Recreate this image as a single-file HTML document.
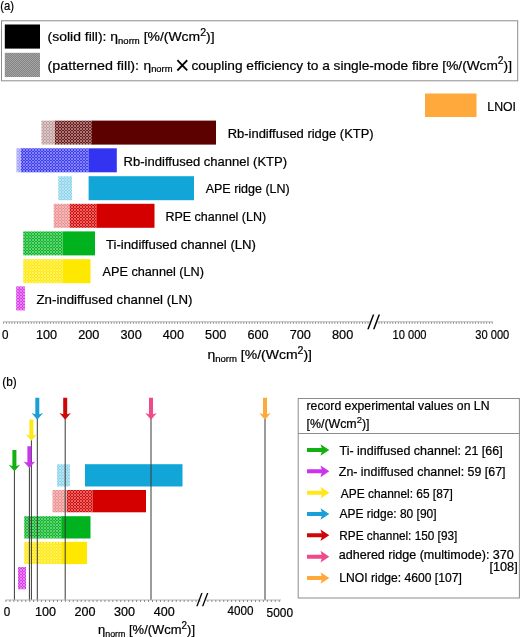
<!DOCTYPE html>
<html><head><meta charset="utf-8"><title>figure</title>
<style>
html,body{margin:0;padding:0;background:#fff;}
svg{display:block;font-family:"Liberation Sans", sans-serif;}
text{stroke:#000;stroke-width:0.22px;}
</style></head><body>
<svg width="520" height="637" viewBox="0 0 520 637">
<rect width="520" height="637" fill="#fff"/>
<defs>
<pattern id="m_rb" width="3" height="3" patternUnits="userSpaceOnUse"><rect width="3" height="3" fill="#5c0000"/><rect width="3" height="3" fill="#fff" fill-opacity="0.1"/><rect x="0" y="0" width="1" height="1" fill="#fff" fill-opacity="0.4"/><rect x="1" y="1" width="1" height="1" fill="#fff" fill-opacity="0.4"/><rect x="2" y="2" width="1" height="1" fill="#fff" fill-opacity="0.4"/><rect x="2" y="0" width="1" height="1" fill="#fff" fill-opacity="0.4"/><rect x="0" y="2" width="1" height="1" fill="#fff" fill-opacity="0.4"/></pattern>
<pattern id="m_bl" width="3" height="3" patternUnits="userSpaceOnUse"><rect width="3" height="3" fill="#3333f2"/><rect width="3" height="3" fill="#fff" fill-opacity="0.05"/><rect x="0" y="0" width="1" height="1" fill="#fff" fill-opacity="0.36"/><rect x="1" y="1" width="1" height="1" fill="#fff" fill-opacity="0.36"/><rect x="2" y="2" width="1" height="1" fill="#fff" fill-opacity="0.36"/><rect x="2" y="0" width="1" height="1" fill="#fff" fill-opacity="0.36"/><rect x="0" y="2" width="1" height="1" fill="#fff" fill-opacity="0.36"/></pattern>
<pattern id="m_cy" width="3" height="3" patternUnits="userSpaceOnUse"><rect width="3" height="3" fill="#12a6d8"/><rect width="3" height="3" fill="#fff" fill-opacity="0.05"/><rect x="0" y="0" width="1" height="1" fill="#fff" fill-opacity="0.36"/><rect x="1" y="1" width="1" height="1" fill="#fff" fill-opacity="0.36"/><rect x="2" y="2" width="1" height="1" fill="#fff" fill-opacity="0.36"/><rect x="2" y="0" width="1" height="1" fill="#fff" fill-opacity="0.36"/><rect x="0" y="2" width="1" height="1" fill="#fff" fill-opacity="0.36"/></pattern>
<pattern id="m_re" width="3" height="3" patternUnits="userSpaceOnUse"><rect width="3" height="3" fill="#d40000"/><rect width="3" height="3" fill="#fff" fill-opacity="0.05"/><rect x="0" y="0" width="1" height="1" fill="#fff" fill-opacity="0.36"/><rect x="1" y="1" width="1" height="1" fill="#fff" fill-opacity="0.36"/><rect x="2" y="2" width="1" height="1" fill="#fff" fill-opacity="0.36"/><rect x="2" y="0" width="1" height="1" fill="#fff" fill-opacity="0.36"/><rect x="0" y="2" width="1" height="1" fill="#fff" fill-opacity="0.36"/></pattern>
<pattern id="m_gr" width="3" height="3" patternUnits="userSpaceOnUse"><rect width="3" height="3" fill="#00b31e"/><rect width="3" height="3" fill="#fff" fill-opacity="0.05"/><rect x="0" y="0" width="1" height="1" fill="#fff" fill-opacity="0.36"/><rect x="1" y="1" width="1" height="1" fill="#fff" fill-opacity="0.36"/><rect x="2" y="2" width="1" height="1" fill="#fff" fill-opacity="0.36"/><rect x="2" y="0" width="1" height="1" fill="#fff" fill-opacity="0.36"/><rect x="0" y="2" width="1" height="1" fill="#fff" fill-opacity="0.36"/></pattern>
<pattern id="m_ye" width="3" height="3" patternUnits="userSpaceOnUse"><rect width="3" height="3" fill="#ffe800"/><rect width="3" height="3" fill="#fff" fill-opacity="0.05"/><rect x="0" y="0" width="1" height="1" fill="#fff" fill-opacity="0.36"/><rect x="1" y="1" width="1" height="1" fill="#fff" fill-opacity="0.36"/><rect x="2" y="2" width="1" height="1" fill="#fff" fill-opacity="0.36"/><rect x="2" y="0" width="1" height="1" fill="#fff" fill-opacity="0.36"/><rect x="0" y="2" width="1" height="1" fill="#fff" fill-opacity="0.36"/></pattern>
<pattern id="m_ma" width="3" height="3" patternUnits="userSpaceOnUse"><rect width="3" height="3" fill="#d633e8"/><rect width="3" height="3" fill="#fff" fill-opacity="0.05"/><rect x="0" y="0" width="1" height="1" fill="#fff" fill-opacity="0.36"/><rect x="1" y="1" width="1" height="1" fill="#fff" fill-opacity="0.36"/><rect x="2" y="2" width="1" height="1" fill="#fff" fill-opacity="0.36"/><rect x="2" y="0" width="1" height="1" fill="#fff" fill-opacity="0.36"/><rect x="0" y="2" width="1" height="1" fill="#fff" fill-opacity="0.36"/></pattern>
<pattern id="m_gy" width="3" height="3" patternUnits="userSpaceOnUse"><rect width="3" height="3" fill="#000000"/><rect width="3" height="3" fill="#fff" fill-opacity="0.05"/><rect x="0" y="0" width="1" height="1" fill="#fff" fill-opacity="0.36"/><rect x="1" y="1" width="1" height="1" fill="#fff" fill-opacity="0.36"/><rect x="2" y="2" width="1" height="1" fill="#fff" fill-opacity="0.36"/><rect x="2" y="0" width="1" height="1" fill="#fff" fill-opacity="0.36"/><rect x="0" y="2" width="1" height="1" fill="#fff" fill-opacity="0.36"/></pattern>
<pattern id="g_gy" width="2" height="2" patternUnits="userSpaceOnUse"><rect width="2" height="2" fill="#000"/><rect width="2" height="2" fill="#fff" fill-opacity="0.52"/><rect x="0" y="0" width="1" height="1" fill="#fff" fill-opacity="0.25"/><rect x="1" y="1" width="1" height="1" fill="#fff" fill-opacity="0.25"/></pattern>
</defs>
<text x="0.2" y="9.9" font-size="12.6" text-anchor="start" fill="#000" textLength="13.8" lengthAdjust="spacingAndGlyphs" >(a)</text>
<rect x="1.5" y="20.8" width="516.2" height="60" fill="#fff" stroke="#8c8c8c" stroke-width="1"/>
<rect x="4.80" y="24.50" width="35.20" height="24.10" fill="#000" />
<rect x="4.80" y="52.80" width="35.20" height="24.20" fill="url(#g_gy)" />
<text x="47.6" y="41.0" font-size="13.2" text-anchor="start" fill="#000" textLength="167" lengthAdjust="spacingAndGlyphs" >(solid fill): η<tspan font-size="9.0" dy="2.8">norm</tspan><tspan dy="-2.8"> </tspan>[%/(Wcm<tspan font-size="10.0" dy="-5.2">2</tspan><tspan dy="5.2">)]</tspan></text>
<text x="47.6" y="69.5" font-size="13.2" text-anchor="start" fill="#000" textLength="91.5" lengthAdjust="spacingAndGlyphs" >(patterned fill):</text>
<text x="143.5" y="69.5" font-size="13.2" text-anchor="start" fill="#000" textLength="29" lengthAdjust="spacingAndGlyphs" >η<tspan font-size="9.0" dy="2.8">norm</tspan><tspan dy="-2.8"> </tspan></text>
<text x="174.9" y="73.6" font-size="25" text-anchor="start" fill="#000" style="stroke:none">×</text>
<text x="191.5" y="69.5" font-size="13.2" text-anchor="start" fill="#000" textLength="320.5" lengthAdjust="spacingAndGlyphs" >coupling efficiency to a single-mode fibre [%/(Wcm<tspan font-size="10.0" dy="-5.2">2</tspan><tspan dy="5.2">)]</tspan></text>
<rect x="425.00" y="93.50" width="51.50" height="23.50" fill="#ffa83b" />
<text x="487.3" y="110.9" font-size="13.2" text-anchor="start" fill="#000" textLength="28.7" lengthAdjust="spacingAndGlyphs" >LNOI</text>
<rect x="41.40" y="120.60" width="13.40" height="24.00" fill="url(#m_rb)" fill-opacity="0.42"/>
<rect x="54.80" y="120.60" width="37.10" height="24.00" fill="url(#m_rb)" />
<rect x="91.90" y="120.60" width="124.10" height="24.00" fill="#5c0000" />
<rect x="16.50" y="148.30" width="4.50" height="24.00" fill="url(#m_bl)" fill-opacity="0.5"/>
<rect x="21.00" y="148.30" width="67.50" height="24.00" fill="url(#m_bl)" />
<rect x="88.50" y="148.30" width="28.30" height="24.00" fill="#3333f2" />
<rect x="58.30" y="176.20" width="13.70" height="24.00" fill="url(#m_cy)" fill-opacity="0.5"/>
<rect x="88.60" y="176.20" width="105.40" height="24.00" fill="#12a6d8" />
<rect x="53.70" y="203.80" width="15.80" height="24.00" fill="url(#m_re)" fill-opacity="0.45"/>
<rect x="69.50" y="203.80" width="26.80" height="24.00" fill="url(#m_re)" />
<rect x="96.30" y="203.80" width="58.20" height="24.00" fill="#d40000" />
<rect x="23.20" y="231.40" width="39.30" height="24.00" fill="url(#m_gr)" />
<rect x="62.50" y="231.40" width="32.50" height="24.00" fill="#00b31e" />
<rect x="23.20" y="259.20" width="39.30" height="24.00" fill="url(#m_ye)" />
<rect x="62.50" y="259.20" width="28.00" height="24.00" fill="#ffe800" />
<rect x="16.20" y="286.40" width="8.80" height="24.00" fill="url(#m_ma)" />
<text x="227.7" y="137.79999999999998" font-size="13.2" text-anchor="start" fill="#000" textLength="146" lengthAdjust="spacingAndGlyphs" >Rb-indiffused ridge (KTP)</text>
<text x="123.6" y="165.5" font-size="13.2" text-anchor="start" fill="#000" textLength="163.5" lengthAdjust="spacingAndGlyphs" >Rb-indiffused channel (KTP)</text>
<text x="205.7" y="193.39999999999998" font-size="13.2" text-anchor="start" fill="#000" textLength="84" lengthAdjust="spacingAndGlyphs" >APE ridge (LN)</text>
<text x="165.4" y="221.0" font-size="13.2" text-anchor="start" fill="#000" textLength="100.8" lengthAdjust="spacingAndGlyphs" >RPE channel (LN)</text>
<text x="106" y="248.6" font-size="13.2" text-anchor="start" fill="#000" textLength="150" lengthAdjust="spacingAndGlyphs" >Ti-indiffused channel (LN)</text>
<text x="102.5" y="276.4" font-size="13.2" text-anchor="start" fill="#000" textLength="101.5" lengthAdjust="spacingAndGlyphs" >APE channel (LN)</text>
<text x="36.5" y="303.59999999999997" font-size="13.2" text-anchor="start" fill="#000" textLength="156" lengthAdjust="spacingAndGlyphs" >Zn-indiffused channel (LN)</text>
<line x1="3.2" y1="321.8" x2="492.8" y2="321.8" stroke="#b4b4b4" stroke-width="1"/>
<line x1="3.2" y1="322.8" x2="492.8" y2="322.8" stroke="#808080" stroke-width="1.8" stroke-dasharray="0.9 1.86"/>
<text x="2" y="339.3" font-size="12.8" text-anchor="start" fill="#000" textLength="6.5" lengthAdjust="spacingAndGlyphs" >0</text>
<text x="46.5" y="339.3" font-size="12.8" text-anchor="middle" fill="#000" textLength="21.2" lengthAdjust="spacingAndGlyphs" >100</text>
<text x="88.8" y="339.3" font-size="12.8" text-anchor="middle" fill="#000" textLength="21.2" lengthAdjust="spacingAndGlyphs" >200</text>
<text x="131.1" y="339.3" font-size="12.8" text-anchor="middle" fill="#000" textLength="21.2" lengthAdjust="spacingAndGlyphs" >300</text>
<text x="173.39999999999998" y="339.3" font-size="12.8" text-anchor="middle" fill="#000" textLength="21.2" lengthAdjust="spacingAndGlyphs" >400</text>
<text x="215.7" y="339.3" font-size="12.8" text-anchor="middle" fill="#000" textLength="21.2" lengthAdjust="spacingAndGlyphs" >500</text>
<text x="258.0" y="339.3" font-size="12.8" text-anchor="middle" fill="#000" textLength="21.2" lengthAdjust="spacingAndGlyphs" >600</text>
<text x="300.29999999999995" y="339.3" font-size="12.8" text-anchor="middle" fill="#000" textLength="21.2" lengthAdjust="spacingAndGlyphs" >700</text>
<text x="342.59999999999997" y="339.3" font-size="12.8" text-anchor="middle" fill="#000" textLength="21.2" lengthAdjust="spacingAndGlyphs" >800</text>
<rect x="370.8" y="320" width="5" height="4.5" fill="#fff"/>
<text transform="translate(367.2,328.8) skewX(-6)" font-size="20" letter-spacing="0.3" style="stroke:none">//</text>
<text x="409.5" y="339.3" font-size="12.8" text-anchor="middle" fill="#000" textLength="34" lengthAdjust="spacingAndGlyphs" >10 000</text>
<text x="492.3" y="339.3" font-size="12.8" text-anchor="middle" fill="#000" textLength="34" lengthAdjust="spacingAndGlyphs" >30 000</text>
<text x="207.4" y="358.9" font-size="13.2" text-anchor="start" fill="#000" textLength="104.6" lengthAdjust="spacingAndGlyphs" >η<tspan font-size="9.0" dy="2.8">norm</tspan><tspan dy="-2.8"> </tspan>[%/(Wcm<tspan font-size="10.0" dy="-5.2">2</tspan><tspan dy="5.2">)]</tspan></text>
<text x="2.3" y="385.9" font-size="12.6" text-anchor="start" fill="#000" textLength="14.4" lengthAdjust="spacingAndGlyphs" >(b)</text>
<rect x="57.00" y="464.20" width="13.00" height="22.30" fill="url(#m_cy)" fill-opacity="0.5"/>
<rect x="85.00" y="464.20" width="97.50" height="22.30" fill="#12a6d8" />
<rect x="52.50" y="490.00" width="14.50" height="22.30" fill="url(#m_re)" fill-opacity="0.45"/>
<rect x="67.00" y="490.00" width="25.50" height="22.30" fill="url(#m_re)" />
<rect x="92.50" y="490.00" width="53.50" height="22.30" fill="#d40000" />
<rect x="24.20" y="516.20" width="37.00" height="22.30" fill="url(#m_gr)" />
<rect x="61.20" y="516.20" width="29.30" height="22.30" fill="#00b31e" />
<rect x="24.20" y="541.80" width="37.00" height="22.30" fill="url(#m_ye)" />
<rect x="61.20" y="541.80" width="25.80" height="22.30" fill="#ffe800" />
<rect x="18.00" y="567.00" width="8.00" height="22.30" fill="url(#m_ma)" />
<line x1="14.4" y1="469.3" x2="14.4" y2="600" stroke="#383838" stroke-width="1"/>
<line x1="29.4" y1="466" x2="29.4" y2="600" stroke="#383838" stroke-width="1"/>
<line x1="31.4" y1="438.8" x2="31.4" y2="600" stroke="#383838" stroke-width="1"/>
<line x1="37.3" y1="417.7" x2="37.3" y2="600" stroke="#383838" stroke-width="1"/>
<line x1="65.2" y1="417.7" x2="65.2" y2="600" stroke="#383838" stroke-width="1"/>
<line x1="151" y1="417.7" x2="151" y2="600" stroke="#383838" stroke-width="1"/>
<line x1="265" y1="417.7" x2="265" y2="600" stroke="#383838" stroke-width="1"/>
<path d="M12.40 450 H16.40 V465.90 L20.15 464.70 L14.40 471.3 L8.65 464.70 L12.40 465.90 Z" fill="#12b012"/>
<path d="M27.40 446.2 H31.40 V462.60 L35.15 461.40 L29.40 468 L23.65 461.40 L27.40 462.60 Z" fill="#cc33ee"/>
<path d="M29.40 419.5 H33.40 V435.40 L37.15 434.20 L31.40 440.8 L25.65 434.20 L29.40 435.40 Z" fill="#ffe81a"/>
<path d="M35.30 397.8 H39.30 V414.30 L43.05 413.10 L37.30 419.7 L31.55 413.10 L35.30 414.30 Z" fill="#1aa0d6"/>
<path d="M63.20 397.8 H67.20 V414.30 L70.95 413.10 L65.20 419.7 L59.45 413.10 L63.20 414.30 Z" fill="#cc0808"/>
<path d="M149.00 397.8 H153.00 V414.30 L156.75 413.10 L151.00 419.7 L145.25 413.10 L149.00 414.30 Z" fill="#f04a8c"/>
<path d="M263.00 397.8 H267.00 V414.30 L270.75 413.10 L265.00 419.7 L259.25 413.10 L263.00 414.30 Z" fill="#ffa83b"/>
<line x1="5.5" y1="600" x2="281" y2="600" stroke="#b4b4b4" stroke-width="1"/>
<line x1="5.5" y1="601" x2="281" y2="601" stroke="#808080" stroke-width="1.8" stroke-dasharray="0.9 3.06"/>
<text x="3.8" y="616.3" font-size="12.8" text-anchor="start" fill="#000" textLength="6.5" lengthAdjust="spacingAndGlyphs" >0</text>
<text x="45.4" y="616.3" font-size="12.8" text-anchor="middle" fill="#000" textLength="21" lengthAdjust="spacingAndGlyphs" >100</text>
<text x="85.0" y="616.3" font-size="12.8" text-anchor="middle" fill="#000" textLength="21" lengthAdjust="spacingAndGlyphs" >200</text>
<text x="124.60000000000001" y="616.3" font-size="12.8" text-anchor="middle" fill="#000" textLength="21" lengthAdjust="spacingAndGlyphs" >300</text>
<text x="164.20000000000002" y="616.3" font-size="12.8" text-anchor="middle" fill="#000" textLength="21" lengthAdjust="spacingAndGlyphs" >400</text>
<rect x="200.4" y="598" width="5" height="4.5" fill="#fff"/>
<text transform="translate(196.2,606.4) skewX(-6)" font-size="18" letter-spacing="0.9" style="stroke:none">//</text>
<text x="240.6" y="615.0" font-size="12.8" text-anchor="middle" fill="#000" textLength="26" lengthAdjust="spacingAndGlyphs" >4000</text>
<text x="279.8" y="616.5" font-size="12.8" text-anchor="middle" fill="#000" textLength="26.5" lengthAdjust="spacingAndGlyphs" >5000</text>
<text x="98" y="634.4" font-size="13.2" text-anchor="start" fill="#000" textLength="97" lengthAdjust="spacingAndGlyphs" >η<tspan font-size="9.0" dy="2.8">norm</tspan><tspan dy="-2.8"> </tspan>[%/(Wcm<tspan font-size="10.0" dy="-5.2">2</tspan><tspan dy="5.2">)]</tspan></text>
<rect x="298.2" y="398.5" width="221.2" height="199.5" fill="#fff" stroke="#8c8c8c" stroke-width="1"/>
<line x1="298.2" y1="433.5" x2="519.4" y2="433.5" stroke="#8c8c8c" stroke-width="1"/>
<text x="306.5" y="409.8" font-size="12.2" text-anchor="start" fill="#000" textLength="183" lengthAdjust="spacingAndGlyphs" >record experimental values on LN</text>
<text x="306.5" y="428" font-size="12.2" text-anchor="start" fill="#000" textLength="63" lengthAdjust="spacingAndGlyphs" >[%/(Wcm<tspan font-size="9.3" dy="-5.2">2</tspan><tspan dy="5.2">)]</tspan></text>
<path d="M307 448.00 H321.70 L320.50 444.20 L329.3 450.0 L320.50 455.80 L321.70 452.00 H307 Z" fill="#12b012"/>
<text x="339.5" y="454.5" font-size="12.2" text-anchor="start" fill="#000" textLength="163.2" lengthAdjust="spacingAndGlyphs" >Ti- indiffused channel: 21 [66]</text>
<path d="M307 469.33 H321.70 L320.50 465.53 L329.3 471.33 L320.50 477.13 L321.70 473.33 H307 Z" fill="#cc33ee"/>
<text x="338.8" y="475.9" font-size="12.2" text-anchor="start" fill="#000" textLength="166.7" lengthAdjust="spacingAndGlyphs" >Zn- indiffused channel: 59 [67]</text>
<path d="M307 490.66 H321.70 L320.50 486.86 L329.3 492.65999999999997 L320.50 498.46 L321.70 494.66 H307 Z" fill="#ffe81a"/>
<text x="340.8" y="497.5" font-size="12.2" text-anchor="start" fill="#000" textLength="111.9" lengthAdjust="spacingAndGlyphs" >APE channel: 65 [87]</text>
<path d="M307 511.99 H321.70 L320.50 508.19 L329.3 513.99 L320.50 519.79 L321.70 515.99 H307 Z" fill="#1aa0d6"/>
<text x="339.5" y="518.2" font-size="12.2" text-anchor="start" fill="#000" textLength="97" lengthAdjust="spacingAndGlyphs" >APE ridge: 80 [90]</text>
<path d="M307 533.32 H321.70 L320.50 529.52 L329.3 535.3199999999999 L320.50 541.12 L321.70 537.32 H307 Z" fill="#cc0808"/>
<text x="339.3" y="539.9" font-size="12.2" text-anchor="start" fill="#000" textLength="118" lengthAdjust="spacingAndGlyphs" >RPE channel: 150 [93]</text>
<path d="M307 554.65 H321.70 L320.50 550.85 L329.3 556.65 L320.50 562.45 L321.70 558.65 H307 Z" fill="#f04a8c"/>
<text x="338.8" y="559.2" font-size="12.2" text-anchor="start" fill="#000" textLength="175" lengthAdjust="spacingAndGlyphs" >adhered ridge (multimode): 370</text>
<path d="M307 575.98 H321.70 L320.50 572.18 L329.3 577.98 L320.50 583.78 L321.70 579.98 H307 Z" fill="#ffa83b"/>
<text x="339.3" y="582.4" font-size="12.2" text-anchor="start" fill="#000" textLength="122.5" lengthAdjust="spacingAndGlyphs" >LNOI ridge: 4600 [107]</text>
<text x="489.5" y="570.6" font-size="12.2" text-anchor="start" fill="#000" textLength="28.2" lengthAdjust="spacingAndGlyphs" >[108]</text>
</svg>
</body></html>
